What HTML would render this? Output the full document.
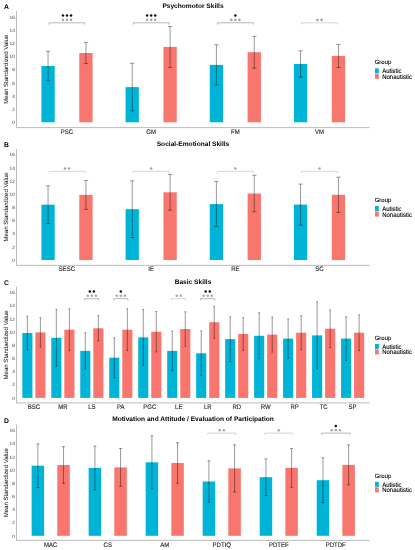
<!DOCTYPE html><html><head><meta charset="utf-8"><style>html,body{margin:0;padding:0;background:#fff;}svg{display:block;will-change:transform;}text{font-family:"Liberation Sans",sans-serif;text-rendering:geometricPrecision;}</style></head><body>
<svg width="415" height="550" viewBox="0 0 415 550">
<rect width="415" height="550" fill="#fff"/>
<g>
<text x="3.9" y="9.30" font-size="6.8" font-weight="bold" fill="#000">A</text>
<text x="193" y="7.90" font-size="6.6" font-weight="bold" fill="#000" text-anchor="middle">Psychomotor Skills</text>
<text transform="translate(7.50,69.30) rotate(-90)" font-size="6.05" fill="#222" stroke="#222" stroke-width="0.05" text-anchor="middle">Mean Standardized Value</text>
<text x="14.9" y="124.05" font-size="4.8" fill="#3a3a3a" text-anchor="end">0</text>
<text x="14.9" y="110.88" font-size="4.8" fill="#3a3a3a" text-anchor="end">2</text>
<text x="14.9" y="97.70" font-size="4.8" fill="#3a3a3a" text-anchor="end">4</text>
<text x="14.9" y="84.52" font-size="4.8" fill="#3a3a3a" text-anchor="end">6</text>
<text x="14.9" y="71.35" font-size="4.8" fill="#3a3a3a" text-anchor="end">8</text>
<text x="14.9" y="58.17" font-size="4.8" fill="#3a3a3a" text-anchor="end">10</text>
<text x="14.9" y="45.00" font-size="4.8" fill="#3a3a3a" text-anchor="end">12</text>
<text x="14.9" y="31.82" font-size="4.8" fill="#3a3a3a" text-anchor="end">14</text>
<text x="14.9" y="18.65" font-size="4.8" fill="#3a3a3a" text-anchor="end">16</text>
<line x1="16.5" y1="11.10" x2="16.5" y2="127.60" stroke="#aaa" stroke-width="0.8"/>
<line x1="16.5" y1="127.60" x2="369.6" y2="127.60" stroke="#aaa" stroke-width="0.8"/>
<rect x="41.41" y="66.00" width="13.30" height="56.30" fill="#00B4D8"/>
<rect x="79.29" y="53.00" width="13.30" height="69.30" fill="#F8766D"/>
<path d="M48.06 51.30V80.70M45.87 51.30H50.25M45.87 80.70H50.25" stroke="#000" stroke-opacity="0.5" stroke-width="0.8" fill="none"/>
<path d="M85.94 42.40V63.60M83.75 42.40H88.13M83.75 63.60H88.13" stroke="#000" stroke-opacity="0.5" stroke-width="0.8" fill="none"/>
<text transform="translate(67.00,133.70) scale(1,1.1)" font-size="6" fill="#222" stroke="#222" stroke-width="0.1" text-anchor="middle">PSC</text>
<rect x="125.58" y="87.10" width="13.30" height="35.20" fill="#00B4D8"/>
<rect x="163.45" y="46.90" width="13.30" height="75.40" fill="#F8766D"/>
<path d="M132.23 63.25V110.95M130.04 63.25H134.42M130.04 110.95H134.42" stroke="#000" stroke-opacity="0.5" stroke-width="0.8" fill="none"/>
<path d="M170.10 26.45V67.35M167.92 26.45H172.29M167.92 67.35H172.29" stroke="#000" stroke-opacity="0.5" stroke-width="0.8" fill="none"/>
<text transform="translate(151.17,133.70) scale(1,1.1)" font-size="6" fill="#222" stroke="#222" stroke-width="0.1" text-anchor="middle">GM</text>
<rect x="209.75" y="64.90" width="13.30" height="57.40" fill="#00B4D8"/>
<rect x="247.62" y="52.20" width="13.30" height="70.10" fill="#F8766D"/>
<path d="M216.40 44.75V85.05M214.21 44.75H218.58M214.21 85.05H218.58" stroke="#000" stroke-opacity="0.5" stroke-width="0.8" fill="none"/>
<path d="M254.27 36.30V68.10M252.08 36.30H256.46M252.08 68.10H256.46" stroke="#000" stroke-opacity="0.5" stroke-width="0.8" fill="none"/>
<text transform="translate(235.33,133.70) scale(1,1.1)" font-size="6" fill="#222" stroke="#222" stroke-width="0.1" text-anchor="middle">FM</text>
<rect x="293.91" y="64.00" width="13.30" height="58.30" fill="#00B4D8"/>
<rect x="331.79" y="55.90" width="13.30" height="66.40" fill="#F8766D"/>
<path d="M300.56 50.85V77.15M298.37 50.85H302.75M298.37 77.15H302.75" stroke="#000" stroke-opacity="0.5" stroke-width="0.8" fill="none"/>
<path d="M338.44 44.35V67.45M336.25 44.35H340.63M336.25 67.45H340.63" stroke="#000" stroke-opacity="0.5" stroke-width="0.8" fill="none"/>
<text transform="translate(319.50,133.70) scale(1,1.1)" font-size="6" fill="#222" stroke="#222" stroke-width="0.1" text-anchor="middle">VM</text>
<path d="M49.06 24.60V22.80H84.94V24.60" stroke="#999" stroke-width="0.7" fill="none"/>
<circle cx="62.95" cy="15.60" r="1.25" fill="#111"/>
<circle cx="67.00" cy="15.60" r="1.25" fill="#111"/>
<circle cx="71.05" cy="15.60" r="1.25" fill="#111"/>
<circle cx="62.95" cy="19.90" r="1.3" fill="#a8a8a8"/>
<circle cx="67.00" cy="19.90" r="1.3" fill="#a8a8a8"/>
<circle cx="71.05" cy="19.90" r="1.3" fill="#a8a8a8"/>
<path d="M133.23 24.60V22.80H169.10V24.60" stroke="#999" stroke-width="0.7" fill="none"/>
<circle cx="147.12" cy="15.60" r="1.25" fill="#111"/>
<circle cx="151.17" cy="15.60" r="1.25" fill="#111"/>
<circle cx="155.22" cy="15.60" r="1.25" fill="#111"/>
<circle cx="147.12" cy="19.90" r="1.3" fill="#a8a8a8"/>
<circle cx="151.17" cy="19.90" r="1.3" fill="#a8a8a8"/>
<circle cx="155.22" cy="19.90" r="1.3" fill="#a8a8a8"/>
<path d="M217.40 24.60V22.80H253.27V24.60" stroke="#999" stroke-width="0.7" fill="none"/>
<circle cx="235.33" cy="15.60" r="1.25" fill="#111"/>
<circle cx="231.28" cy="19.90" r="1.3" fill="#a8a8a8"/>
<circle cx="235.33" cy="19.90" r="1.3" fill="#a8a8a8"/>
<circle cx="239.38" cy="19.90" r="1.3" fill="#a8a8a8"/>
<path d="M301.56 24.60V22.80H337.44V24.60" stroke="#c4c4c4" stroke-width="0.7" fill="none"/>
<circle cx="317.48" cy="19.90" r="1.3" fill="#a8a8a8"/>
<circle cx="321.52" cy="19.90" r="1.3" fill="#a8a8a8"/>
<text x="374.7" y="64.30" font-size="6" fill="#000" stroke="#000" stroke-width="0.1">Group</text>
<rect x="375" y="68.30" width="3.8" height="5.0" fill="#00B4D8"/>
<rect x="375" y="73.80" width="3.8" height="5.0" fill="#F8766D"/>
<text transform="translate(382.2,73.00) scale(1,1.1)" font-size="6" fill="#000" stroke="#000" stroke-width="0.1">Autistic</text>
<text transform="translate(382.2,78.80) scale(1,1.1)" font-size="6" fill="#000" stroke="#000" stroke-width="0.1">Nonautistic</text>
</g>
<g>
<text x="3.9" y="147.05" font-size="6.8" font-weight="bold" fill="#000">B</text>
<text x="193" y="145.65" font-size="6.6" font-weight="bold" fill="#000" text-anchor="middle">Social-Emotional Skills</text>
<text transform="translate(7.50,207.05) rotate(-90)" font-size="6.05" fill="#222" stroke="#222" stroke-width="0.05" text-anchor="middle">Mean Standardized Value</text>
<text x="14.9" y="261.80" font-size="4.8" fill="#3a3a3a" text-anchor="end">0</text>
<text x="14.9" y="248.62" font-size="4.8" fill="#3a3a3a" text-anchor="end">2</text>
<text x="14.9" y="235.45" font-size="4.8" fill="#3a3a3a" text-anchor="end">4</text>
<text x="14.9" y="222.28" font-size="4.8" fill="#3a3a3a" text-anchor="end">6</text>
<text x="14.9" y="209.10" font-size="4.8" fill="#3a3a3a" text-anchor="end">8</text>
<text x="14.9" y="195.93" font-size="4.8" fill="#3a3a3a" text-anchor="end">10</text>
<text x="14.9" y="182.75" font-size="4.8" fill="#3a3a3a" text-anchor="end">12</text>
<text x="14.9" y="169.57" font-size="4.8" fill="#3a3a3a" text-anchor="end">14</text>
<text x="14.9" y="156.40" font-size="4.8" fill="#3a3a3a" text-anchor="end">16</text>
<line x1="16.5" y1="148.85" x2="16.5" y2="265.35" stroke="#aaa" stroke-width="0.8"/>
<line x1="16.5" y1="265.35" x2="369.6" y2="265.35" stroke="#aaa" stroke-width="0.8"/>
<rect x="41.41" y="204.70" width="13.30" height="55.35" fill="#00B4D8"/>
<rect x="79.29" y="194.90" width="13.30" height="65.15" fill="#F8766D"/>
<path d="M48.06 185.90V223.50M45.87 185.90H50.25M45.87 223.50H50.25" stroke="#000" stroke-opacity="0.5" stroke-width="0.8" fill="none"/>
<path d="M85.94 180.45V209.35M83.75 180.45H88.13M83.75 209.35H88.13" stroke="#000" stroke-opacity="0.5" stroke-width="0.8" fill="none"/>
<text transform="translate(67.00,271.45) scale(1,1.1)" font-size="6" fill="#222" stroke="#222" stroke-width="0.1" text-anchor="middle">SESC</text>
<rect x="125.58" y="209.20" width="13.30" height="50.85" fill="#00B4D8"/>
<rect x="163.45" y="192.30" width="13.30" height="67.75" fill="#F8766D"/>
<path d="M132.23 180.85V237.55M130.04 180.85H134.42M130.04 237.55H134.42" stroke="#000" stroke-opacity="0.5" stroke-width="0.8" fill="none"/>
<path d="M170.10 174.40V210.20M167.92 174.40H172.29M167.92 210.20H172.29" stroke="#000" stroke-opacity="0.5" stroke-width="0.8" fill="none"/>
<text transform="translate(151.17,271.45) scale(1,1.1)" font-size="6" fill="#222" stroke="#222" stroke-width="0.1" text-anchor="middle">IE</text>
<rect x="209.75" y="204.10" width="13.30" height="55.95" fill="#00B4D8"/>
<rect x="247.62" y="193.50" width="13.30" height="66.55" fill="#F8766D"/>
<path d="M216.40 181.65V226.55M214.21 181.65H218.58M214.21 226.55H218.58" stroke="#000" stroke-opacity="0.5" stroke-width="0.8" fill="none"/>
<path d="M254.27 175.25V211.75M252.08 175.25H256.46M252.08 211.75H256.46" stroke="#000" stroke-opacity="0.5" stroke-width="0.8" fill="none"/>
<text transform="translate(235.33,271.45) scale(1,1.1)" font-size="6" fill="#222" stroke="#222" stroke-width="0.1" text-anchor="middle">RE</text>
<rect x="293.91" y="204.60" width="13.30" height="55.45" fill="#00B4D8"/>
<rect x="331.79" y="194.80" width="13.30" height="65.25" fill="#F8766D"/>
<path d="M300.56 184.10V225.10M298.37 184.10H302.75M298.37 225.10H302.75" stroke="#000" stroke-opacity="0.5" stroke-width="0.8" fill="none"/>
<path d="M338.44 177.20V212.40M336.25 177.20H340.63M336.25 212.40H340.63" stroke="#000" stroke-opacity="0.5" stroke-width="0.8" fill="none"/>
<text transform="translate(319.50,271.45) scale(1,1.1)" font-size="6" fill="#222" stroke="#222" stroke-width="0.1" text-anchor="middle">SC</text>
<path d="M49.06 173.15V171.35H84.94V173.15" stroke="#c4c4c4" stroke-width="0.7" fill="none"/>
<circle cx="64.97" cy="168.45" r="1.3" fill="#a8a8a8"/>
<circle cx="69.03" cy="168.45" r="1.3" fill="#a8a8a8"/>
<path d="M133.23 173.15V171.35H169.10V173.15" stroke="#c4c4c4" stroke-width="0.7" fill="none"/>
<circle cx="151.17" cy="168.45" r="1.3" fill="#a8a8a8"/>
<path d="M217.40 173.15V171.35H253.27V173.15" stroke="#c4c4c4" stroke-width="0.7" fill="none"/>
<circle cx="235.33" cy="168.45" r="1.3" fill="#a8a8a8"/>
<path d="M301.56 173.15V171.35H337.44V173.15" stroke="#c4c4c4" stroke-width="0.7" fill="none"/>
<circle cx="319.50" cy="168.45" r="1.3" fill="#a8a8a8"/>
<text x="374.7" y="202.05" font-size="6" fill="#000" stroke="#000" stroke-width="0.1">Group</text>
<rect x="375" y="206.05" width="3.8" height="5.0" fill="#00B4D8"/>
<rect x="375" y="211.55" width="3.8" height="5.0" fill="#F8766D"/>
<text transform="translate(382.2,210.75) scale(1,1.1)" font-size="6" fill="#000" stroke="#000" stroke-width="0.1">Autistic</text>
<text transform="translate(382.2,216.55) scale(1,1.1)" font-size="6" fill="#000" stroke="#000" stroke-width="0.1">Nonautistic</text>
</g>
<g>
<text x="3.9" y="284.90" font-size="6.8" font-weight="bold" fill="#000">C</text>
<text x="193" y="283.50" font-size="6.6" font-weight="bold" fill="#000" text-anchor="middle">Basic Skills</text>
<text transform="translate(7.50,344.90) rotate(-90)" font-size="6.05" fill="#222" stroke="#222" stroke-width="0.05" text-anchor="middle">Mean Standardized Value</text>
<text x="14.9" y="399.65" font-size="4.8" fill="#3a3a3a" text-anchor="end">0</text>
<text x="14.9" y="386.48" font-size="4.8" fill="#3a3a3a" text-anchor="end">2</text>
<text x="14.9" y="373.30" font-size="4.8" fill="#3a3a3a" text-anchor="end">4</text>
<text x="14.9" y="360.12" font-size="4.8" fill="#3a3a3a" text-anchor="end">6</text>
<text x="14.9" y="346.95" font-size="4.8" fill="#3a3a3a" text-anchor="end">8</text>
<text x="14.9" y="333.78" font-size="4.8" fill="#3a3a3a" text-anchor="end">10</text>
<text x="14.9" y="320.60" font-size="4.8" fill="#3a3a3a" text-anchor="end">12</text>
<text x="14.9" y="307.43" font-size="4.8" fill="#3a3a3a" text-anchor="end">14</text>
<text x="14.9" y="294.25" font-size="4.8" fill="#3a3a3a" text-anchor="end">16</text>
<line x1="16.5" y1="286.70" x2="16.5" y2="402.90" stroke="#aaa" stroke-width="0.8"/>
<line x1="16.5" y1="402.90" x2="369.6" y2="402.90" stroke="#aaa" stroke-width="0.8"/>
<rect x="22.32" y="333.00" width="10.10" height="64.90" fill="#00B4D8"/>
<rect x="35.35" y="332.40" width="10.10" height="65.50" fill="#F8766D"/>
<path d="M27.37 316.15V349.85M26.47 316.15H28.27M26.47 349.85H28.27" stroke="#000" stroke-opacity="0.5" stroke-width="0.8" fill="none"/>
<path d="M40.40 317.70V347.10M39.50 317.70H41.30M39.50 347.10H41.30" stroke="#000" stroke-opacity="0.5" stroke-width="0.8" fill="none"/>
<text transform="translate(33.89,409.30) scale(1,1.1)" font-size="6" fill="#222" stroke="#222" stroke-width="0.1" text-anchor="middle">BSC</text>
<rect x="51.29" y="337.80" width="10.10" height="60.10" fill="#00B4D8"/>
<rect x="64.33" y="329.70" width="10.10" height="68.20" fill="#F8766D"/>
<path d="M56.34 309.30V366.30M55.44 309.30H57.24M55.44 366.30H57.24" stroke="#000" stroke-opacity="0.5" stroke-width="0.8" fill="none"/>
<path d="M69.38 308.75V350.65M68.48 308.75H70.28M68.48 350.65H70.28" stroke="#000" stroke-opacity="0.5" stroke-width="0.8" fill="none"/>
<text transform="translate(62.86,409.30) scale(1,1.1)" font-size="6" fill="#222" stroke="#222" stroke-width="0.1" text-anchor="middle">MR</text>
<rect x="80.27" y="350.90" width="10.10" height="47.00" fill="#00B4D8"/>
<rect x="93.31" y="328.30" width="10.10" height="69.60" fill="#F8766D"/>
<path d="M85.32 332.70V369.10M84.42 332.70H86.22M84.42 369.10H86.22" stroke="#000" stroke-opacity="0.5" stroke-width="0.8" fill="none"/>
<path d="M98.36 315.65V340.95M97.46 315.65H99.26M97.46 340.95H99.26" stroke="#000" stroke-opacity="0.5" stroke-width="0.8" fill="none"/>
<text transform="translate(91.84,409.30) scale(1,1.1)" font-size="6" fill="#222" stroke="#222" stroke-width="0.1" text-anchor="middle">LS</text>
<rect x="109.24" y="357.70" width="10.10" height="40.20" fill="#00B4D8"/>
<rect x="122.28" y="329.70" width="10.10" height="68.20" fill="#F8766D"/>
<path d="M114.29 337.80V377.60M113.39 337.80H115.19M113.39 377.60H115.19" stroke="#000" stroke-opacity="0.5" stroke-width="0.8" fill="none"/>
<path d="M127.33 308.75V350.65M126.43 308.75H128.23M126.43 350.65H128.23" stroke="#000" stroke-opacity="0.5" stroke-width="0.8" fill="none"/>
<text transform="translate(120.81,409.30) scale(1,1.1)" font-size="6" fill="#222" stroke="#222" stroke-width="0.1" text-anchor="middle">PA</text>
<rect x="138.22" y="337.40" width="10.10" height="60.50" fill="#00B4D8"/>
<rect x="151.26" y="331.70" width="10.10" height="66.20" fill="#F8766D"/>
<path d="M143.27 309.40V365.40M142.37 309.40H144.17M142.37 365.40H144.17" stroke="#000" stroke-opacity="0.5" stroke-width="0.8" fill="none"/>
<path d="M156.31 311.45V351.95M155.41 311.45H157.21M155.41 351.95H157.21" stroke="#000" stroke-opacity="0.5" stroke-width="0.8" fill="none"/>
<text transform="translate(149.79,409.30) scale(1,1.1)" font-size="6" fill="#222" stroke="#222" stroke-width="0.1" text-anchor="middle">PGC</text>
<rect x="167.19" y="350.90" width="10.10" height="47.00" fill="#00B4D8"/>
<rect x="180.23" y="329.00" width="10.10" height="68.90" fill="#F8766D"/>
<path d="M172.24 331.00V370.80M171.34 331.00H173.14M171.34 370.80H173.14" stroke="#000" stroke-opacity="0.5" stroke-width="0.8" fill="none"/>
<path d="M185.28 311.75V346.25M184.38 311.75H186.18M184.38 346.25H186.18" stroke="#000" stroke-opacity="0.5" stroke-width="0.8" fill="none"/>
<text transform="translate(178.76,409.30) scale(1,1.1)" font-size="6" fill="#222" stroke="#222" stroke-width="0.1" text-anchor="middle">LE</text>
<rect x="196.17" y="353.30" width="10.10" height="44.60" fill="#00B4D8"/>
<rect x="209.21" y="322.20" width="10.10" height="75.70" fill="#F8766D"/>
<path d="M201.22 330.90V375.70M200.32 330.90H202.12M200.32 375.70H202.12" stroke="#000" stroke-opacity="0.5" stroke-width="0.8" fill="none"/>
<path d="M214.26 306.20V338.20M213.36 306.20H215.16M213.36 338.20H215.16" stroke="#000" stroke-opacity="0.5" stroke-width="0.8" fill="none"/>
<text transform="translate(207.74,409.30) scale(1,1.1)" font-size="6" fill="#222" stroke="#222" stroke-width="0.1" text-anchor="middle">LR</text>
<rect x="225.14" y="339.10" width="10.10" height="58.80" fill="#00B4D8"/>
<rect x="238.18" y="334.00" width="10.10" height="63.90" fill="#F8766D"/>
<path d="M230.19 316.70V361.50M229.29 316.70H231.09M229.29 361.50H231.09" stroke="#000" stroke-opacity="0.5" stroke-width="0.8" fill="none"/>
<path d="M243.23 317.65V350.35M242.33 317.65H244.13M242.33 350.35H244.13" stroke="#000" stroke-opacity="0.5" stroke-width="0.8" fill="none"/>
<text transform="translate(236.71,409.30) scale(1,1.1)" font-size="6" fill="#222" stroke="#222" stroke-width="0.1" text-anchor="middle">RD</text>
<rect x="254.12" y="335.80" width="10.10" height="62.10" fill="#00B4D8"/>
<rect x="267.16" y="334.60" width="10.10" height="63.30" fill="#F8766D"/>
<path d="M259.17 312.75V358.85M258.27 312.75H260.07M258.27 358.85H260.07" stroke="#000" stroke-opacity="0.5" stroke-width="0.8" fill="none"/>
<path d="M272.21 317.10V352.10M271.31 317.10H273.11M271.31 352.10H273.11" stroke="#000" stroke-opacity="0.5" stroke-width="0.8" fill="none"/>
<text transform="translate(265.69,409.30) scale(1,1.1)" font-size="6" fill="#222" stroke="#222" stroke-width="0.1" text-anchor="middle">RW</text>
<rect x="283.09" y="338.60" width="10.10" height="59.30" fill="#00B4D8"/>
<rect x="296.13" y="332.70" width="10.10" height="65.20" fill="#F8766D"/>
<path d="M288.14 318.90V358.30M287.24 318.90H289.04M287.24 358.30H289.04" stroke="#000" stroke-opacity="0.5" stroke-width="0.8" fill="none"/>
<path d="M301.18 315.80V349.60M300.28 315.80H302.08M300.28 349.60H302.08" stroke="#000" stroke-opacity="0.5" stroke-width="0.8" fill="none"/>
<text transform="translate(294.66,409.30) scale(1,1.1)" font-size="6" fill="#222" stroke="#222" stroke-width="0.1" text-anchor="middle">RP</text>
<rect x="312.07" y="335.40" width="10.10" height="62.50" fill="#00B4D8"/>
<rect x="325.11" y="328.70" width="10.10" height="69.20" fill="#F8766D"/>
<path d="M317.12 301.80V369.00M316.22 301.80H318.02M316.22 369.00H318.02" stroke="#000" stroke-opacity="0.5" stroke-width="0.8" fill="none"/>
<path d="M330.16 309.80V347.60M329.26 309.80H331.06M329.26 347.60H331.06" stroke="#000" stroke-opacity="0.5" stroke-width="0.8" fill="none"/>
<text transform="translate(323.64,409.30) scale(1,1.1)" font-size="6" fill="#222" stroke="#222" stroke-width="0.1" text-anchor="middle">TC</text>
<rect x="341.05" y="338.60" width="10.10" height="59.30" fill="#00B4D8"/>
<rect x="354.08" y="332.70" width="10.10" height="65.20" fill="#F8766D"/>
<path d="M346.10 316.70V360.50M345.20 316.70H347.00M345.20 360.50H347.00" stroke="#000" stroke-opacity="0.5" stroke-width="0.8" fill="none"/>
<path d="M359.13 314.85V350.55M358.23 314.85H360.03M358.23 350.55H360.03" stroke="#000" stroke-opacity="0.5" stroke-width="0.8" fill="none"/>
<text transform="translate(352.61,409.30) scale(1,1.1)" font-size="6" fill="#222" stroke="#222" stroke-width="0.1" text-anchor="middle">SP</text>
<path d="M84.72 300.50V298.70H98.96V300.50" stroke="#999" stroke-width="0.7" fill="none"/>
<circle cx="89.81" cy="291.50" r="1.25" fill="#111"/>
<circle cx="93.86" cy="291.50" r="1.25" fill="#111"/>
<circle cx="87.79" cy="295.80" r="1.3" fill="#a8a8a8"/>
<circle cx="91.84" cy="295.80" r="1.3" fill="#a8a8a8"/>
<circle cx="95.89" cy="295.80" r="1.3" fill="#a8a8a8"/>
<path d="M113.69 300.50V298.70H127.93V300.50" stroke="#999" stroke-width="0.7" fill="none"/>
<circle cx="120.81" cy="291.50" r="1.25" fill="#111"/>
<circle cx="116.76" cy="295.80" r="1.3" fill="#a8a8a8"/>
<circle cx="120.81" cy="295.80" r="1.3" fill="#a8a8a8"/>
<circle cx="124.86" cy="295.80" r="1.3" fill="#a8a8a8"/>
<path d="M171.64 300.50V298.70H185.88V300.50" stroke="#c4c4c4" stroke-width="0.7" fill="none"/>
<circle cx="176.74" cy="295.80" r="1.3" fill="#a8a8a8"/>
<circle cx="180.79" cy="295.80" r="1.3" fill="#a8a8a8"/>
<path d="M200.62 300.50V298.70H214.86V300.50" stroke="#999" stroke-width="0.7" fill="none"/>
<circle cx="205.71" cy="291.50" r="1.25" fill="#111"/>
<circle cx="209.76" cy="291.50" r="1.25" fill="#111"/>
<circle cx="203.69" cy="295.80" r="1.3" fill="#a8a8a8"/>
<circle cx="207.74" cy="295.80" r="1.3" fill="#a8a8a8"/>
<circle cx="211.79" cy="295.80" r="1.3" fill="#a8a8a8"/>
<text x="374.7" y="339.90" font-size="6" fill="#000" stroke="#000" stroke-width="0.1">Group</text>
<rect x="375" y="343.90" width="3.8" height="5.0" fill="#00B4D8"/>
<rect x="375" y="349.40" width="3.8" height="5.0" fill="#F8766D"/>
<text transform="translate(382.2,348.60) scale(1,1.1)" font-size="6" fill="#000" stroke="#000" stroke-width="0.1">Autistic</text>
<text transform="translate(382.2,354.40) scale(1,1.1)" font-size="6" fill="#000" stroke="#000" stroke-width="0.1">Nonautistic</text>
</g>
<g>
<text x="3.9" y="422.80" font-size="6.8" font-weight="bold" fill="#000">D</text>
<text x="193" y="421.40" font-size="6.6" font-weight="bold" fill="#000" text-anchor="middle">Motivation and Attitude / Evaluation of Participation</text>
<text transform="translate(7.50,482.80) rotate(-90)" font-size="6.05" fill="#222" stroke="#222" stroke-width="0.05" text-anchor="middle">Mean Standardized Value</text>
<text x="14.9" y="537.55" font-size="4.8" fill="#3a3a3a" text-anchor="end">0</text>
<text x="14.9" y="524.38" font-size="4.8" fill="#3a3a3a" text-anchor="end">2</text>
<text x="14.9" y="511.20" font-size="4.8" fill="#3a3a3a" text-anchor="end">4</text>
<text x="14.9" y="498.02" font-size="4.8" fill="#3a3a3a" text-anchor="end">6</text>
<text x="14.9" y="484.85" font-size="4.8" fill="#3a3a3a" text-anchor="end">8</text>
<text x="14.9" y="471.67" font-size="4.8" fill="#3a3a3a" text-anchor="end">10</text>
<text x="14.9" y="458.50" font-size="4.8" fill="#3a3a3a" text-anchor="end">12</text>
<text x="14.9" y="445.32" font-size="4.8" fill="#3a3a3a" text-anchor="end">14</text>
<text x="14.9" y="432.15" font-size="4.8" fill="#3a3a3a" text-anchor="end">16</text>
<line x1="16.5" y1="424.60" x2="16.5" y2="540.40" stroke="#aaa" stroke-width="0.8"/>
<line x1="16.5" y1="540.40" x2="369.6" y2="540.40" stroke="#aaa" stroke-width="0.8"/>
<rect x="31.63" y="465.70" width="12.50" height="70.10" fill="#00B4D8"/>
<rect x="57.29" y="465.00" width="12.50" height="70.80" fill="#F8766D"/>
<path d="M37.88 443.90V487.50M36.40 443.90H39.36M36.40 487.50H39.36" stroke="#000" stroke-opacity="0.5" stroke-width="0.8" fill="none"/>
<path d="M63.54 446.60V483.40M62.06 446.60H65.02M62.06 483.40H65.02" stroke="#000" stroke-opacity="0.5" stroke-width="0.8" fill="none"/>
<text transform="translate(50.71,547.20) scale(1,1.1)" font-size="6" fill="#222" stroke="#222" stroke-width="0.1" text-anchor="middle">MAC</text>
<rect x="88.65" y="468.00" width="12.50" height="67.80" fill="#00B4D8"/>
<rect x="114.30" y="467.40" width="12.50" height="68.40" fill="#F8766D"/>
<path d="M94.90 446.05V489.95M93.41 446.05H96.38M93.41 489.95H96.38" stroke="#000" stroke-opacity="0.5" stroke-width="0.8" fill="none"/>
<path d="M120.55 448.50V486.30M119.07 448.50H122.04M119.07 486.30H122.04" stroke="#000" stroke-opacity="0.5" stroke-width="0.8" fill="none"/>
<text transform="translate(107.73,547.20) scale(1,1.1)" font-size="6" fill="#222" stroke="#222" stroke-width="0.1" text-anchor="middle">CS</text>
<rect x="145.66" y="462.30" width="12.50" height="73.50" fill="#00B4D8"/>
<rect x="171.32" y="463.00" width="12.50" height="72.80" fill="#F8766D"/>
<path d="M151.91 435.80V488.80M150.43 435.80H153.40M150.43 488.80H153.40" stroke="#000" stroke-opacity="0.5" stroke-width="0.8" fill="none"/>
<path d="M177.57 442.75V483.25M176.09 442.75H179.05M176.09 483.25H179.05" stroke="#000" stroke-opacity="0.5" stroke-width="0.8" fill="none"/>
<text transform="translate(164.74,547.20) scale(1,1.1)" font-size="6" fill="#222" stroke="#222" stroke-width="0.1" text-anchor="middle">AM</text>
<rect x="202.68" y="481.50" width="12.50" height="54.30" fill="#00B4D8"/>
<rect x="228.34" y="468.40" width="12.50" height="67.40" fill="#F8766D"/>
<path d="M208.93 460.75V502.25M207.45 460.75H210.41M207.45 502.25H210.41" stroke="#000" stroke-opacity="0.5" stroke-width="0.8" fill="none"/>
<path d="M234.59 444.80V492.00M233.10 444.80H236.07M233.10 492.00H236.07" stroke="#000" stroke-opacity="0.5" stroke-width="0.8" fill="none"/>
<text transform="translate(221.76,547.20) scale(1,1.1)" font-size="6" fill="#222" stroke="#222" stroke-width="0.1" text-anchor="middle">PDTIQ</text>
<rect x="259.70" y="477.20" width="12.50" height="58.60" fill="#00B4D8"/>
<rect x="285.35" y="467.90" width="12.50" height="67.90" fill="#F8766D"/>
<path d="M265.95 458.90V495.50M264.46 458.90H267.43M264.46 495.50H267.43" stroke="#000" stroke-opacity="0.5" stroke-width="0.8" fill="none"/>
<path d="M291.60 448.50V487.30M290.12 448.50H293.09M290.12 487.30H293.09" stroke="#000" stroke-opacity="0.5" stroke-width="0.8" fill="none"/>
<text transform="translate(278.77,547.20) scale(1,1.1)" font-size="6" fill="#222" stroke="#222" stroke-width="0.1" text-anchor="middle">PDTEF</text>
<rect x="316.71" y="480.20" width="12.50" height="55.60" fill="#00B4D8"/>
<rect x="342.37" y="464.90" width="12.50" height="70.90" fill="#F8766D"/>
<path d="M322.96 457.80V502.60M321.48 457.80H324.44M321.48 502.60H324.44" stroke="#000" stroke-opacity="0.5" stroke-width="0.8" fill="none"/>
<path d="M348.62 444.90V484.90M347.14 444.90H350.10M347.14 484.90H350.10" stroke="#000" stroke-opacity="0.5" stroke-width="0.8" fill="none"/>
<text transform="translate(335.79,547.20) scale(1,1.1)" font-size="6" fill="#222" stroke="#222" stroke-width="0.1" text-anchor="middle">PDTDF</text>
<path d="M207.73 434.90V433.10H235.79V434.90" stroke="#c4c4c4" stroke-width="0.7" fill="none"/>
<circle cx="219.73" cy="430.20" r="1.3" fill="#a8a8a8"/>
<circle cx="223.78" cy="430.20" r="1.3" fill="#a8a8a8"/>
<path d="M264.75 434.90V433.10H292.80V434.90" stroke="#c4c4c4" stroke-width="0.7" fill="none"/>
<circle cx="278.77" cy="430.20" r="1.3" fill="#a8a8a8"/>
<path d="M321.76 434.90V433.10H349.82V434.90" stroke="#999" stroke-width="0.7" fill="none"/>
<circle cx="335.79" cy="425.90" r="1.25" fill="#111"/>
<circle cx="331.74" cy="430.20" r="1.3" fill="#a8a8a8"/>
<circle cx="335.79" cy="430.20" r="1.3" fill="#a8a8a8"/>
<circle cx="339.84" cy="430.20" r="1.3" fill="#a8a8a8"/>
<text x="374.7" y="477.80" font-size="6" fill="#000" stroke="#000" stroke-width="0.1">Group</text>
<rect x="375" y="481.80" width="3.8" height="5.0" fill="#00B4D8"/>
<rect x="375" y="487.30" width="3.8" height="5.0" fill="#F8766D"/>
<text transform="translate(382.2,486.50) scale(1,1.1)" font-size="6" fill="#000" stroke="#000" stroke-width="0.1">Autistic</text>
<text transform="translate(382.2,492.30) scale(1,1.1)" font-size="6" fill="#000" stroke="#000" stroke-width="0.1">Nonautistic</text>
</g>
</svg></body></html>
